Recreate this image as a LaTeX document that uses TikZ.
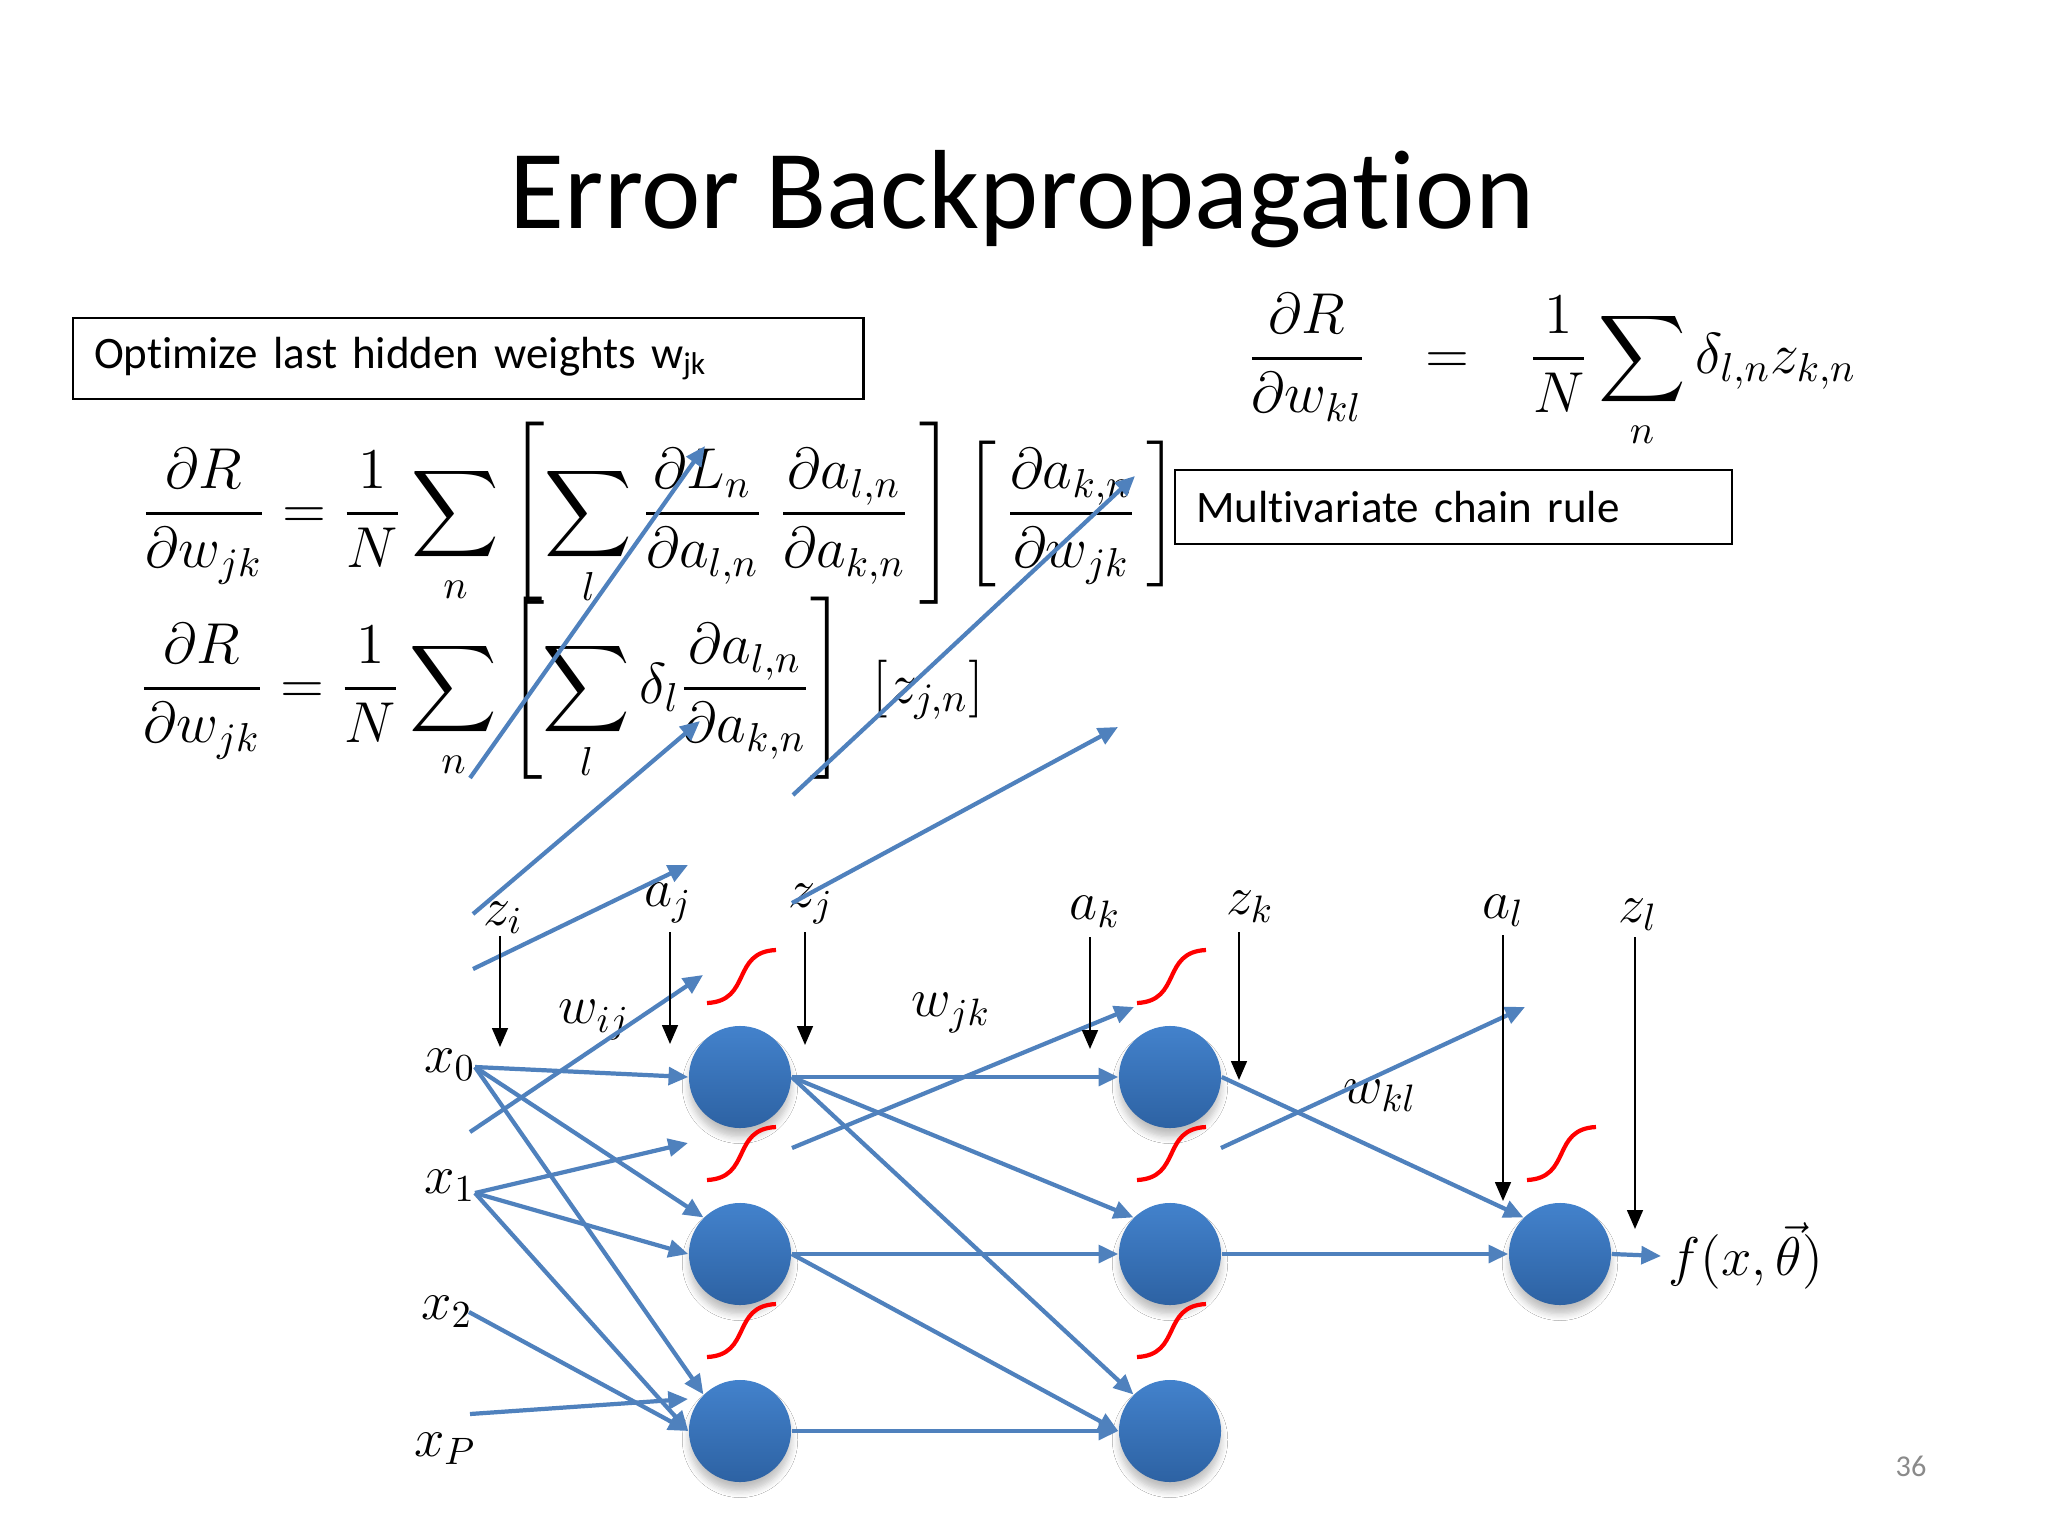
\documentclass[tikz,border=0pt]{standalone}
\usepackage{fix-cm}
\usepackage{amsmath}
\usepackage[no-math]{fontspec}
\setmainfont{Carlito}[Ligatures=NoCommon]
\definecolor{bpBlue}{HTML}{4F81BD}
\definecolor{bpNodeTop}{HTML}{4382CC}
\definecolor{bpNodeBot}{HTML}{2D62A3}
\definecolor{bpGray}{HTML}{8A8A8A}
\usetikzlibrary{
	arrows.meta,
	positioning,
	calc,
	shadows.blur
}

\begin{document}
\begin{tikzpicture}[x=0.01cm, y=-0.01cm,
		neuron/.style={circle, minimum size=1.02cm, inner sep=0pt, top color=bpNodeTop, bottom color=bpNodeBot,
			blur shadow={shadow xshift=0pt, shadow yshift=-2.5pt, shadow blur steps=6, shadow opacity=25}},
		wire/.style={draw=bpBlue, line width=1.2pt, -{Triangle[length=5.6pt,width=5pt]}},
		probe/.style={draw=black, line width=0.6pt, -{Triangle[length=5.4pt,width=4.5pt]}},
		sigm/.style={draw=red, line width=1.2pt},
		lbl/.style={font=\fontsize{15.5}{18}\selectfont, inner sep=0pt},
		eqn/.style={font=\fontsize{16.4}{19}\selectfont, inner sep=0pt, anchor=base west},
		textbox/.style={draw=black, line width=0.6pt, anchor=north west, font=\fontsize{12.8}{15}\selectfont,
			align=left, inner xsep=0.21cm, inner ysep=0pt}]
		\fill[white] (0,0) rectangle (2048,1536);
		\useasboundingbox (0,0) rectangle (2048,1536);

		% title and boxes
		\node[anchor=base, font=\fontsize{32}{38}\selectfont] (title) at (1022,228) {Error Backpropagation};
		\node[textbox, minimum height=0.81cm, text width=7.48cm] (optbox) at (72,317) {Optimize last hidden weights w\textsubscript{jk}};
		\node[textbox, minimum height=0.74cm, text width=5.15cm] (chainbox) at (1174,469) {Multivariate chain rule};

		% equations
		\node[eqn] (eqA) at (141,528) {$\displaystyle \frac{\partial R}{\partial w_{jk}} = \frac{1}{N}\sum_n \left[\sum_l \frac{\partial L_n}{\partial a_{l,n}}\;\frac{\partial a_{l,n}}{\partial a_{k,n}}\,\right]\left[\,\frac{\partial a_{k,n}}{\partial w_{jk}}\,\right]$};
		\node[eqn] (eqB) at (139,703) {$\displaystyle \frac{\partial R}{\partial w_{jk}} = \frac{1}{N}\sum_n \left[\sum_l \delta_l \frac{\partial a_{l,n}}{\partial a_{k,n}}\right]\hspace{0.3em}[z_{j,n}]$};
		\node[eqn] (eqC) at (1247,373) {$\displaystyle \frac{\partial R}{\partial w_{kl}}\hspace{0.75em} = \hspace{0.75em}\frac{1}{N}\sum_n \delta_{l,n} z_{k,n}$};

		% neurons
		\foreach \n/\x/\y in {j1/740/1077, j2/740/1254, j3/740/1431, k1/1170/1077, k2/1170/1254, k3/1170/1431, l/1560/1254}
			\node[neuron] (\n) at (\x,\y) {};
		\foreach \n in {j1,j2,j3,k1,k2,k3,l}
			\draw[sigm] ($(\n)+(-33,-74)$) .. controls +(45,-2) and +(-45,2) .. ($(\n)+(36,-127)$);

		% labels
		\node[lbl] (zi) at (503,918) {$z_i$};
		\node[lbl] (aj) at (668,903) {$a_j$};
		\node[lbl] (zj) at (811,904) {$z_j$};
		\node[lbl] (ak) at (1095,912) {$a_k$};
		\node[lbl] (zk) at (1250,907) {$z_k$};
		\node[lbl] (al) at (1503,911) {$a_l$};
		\node[lbl] (zl) at (1638,915) {$z_l$};
		\node[lbl] (wij) at (594,1020) {$w_{ij}$};
		\node[lbl] (wjk) at (951,1013) {$w_{jk}$};
		\node[lbl] (wkl) at (1380,1096) {$w_{kl}$};
		\node[lbl] (x0) at (450,1065) {$x_0$};
		\node[lbl] (x1) at (450,1186) {$x_1$};
		\node[lbl] (x2) at (447,1312) {$x_2$};
		\node[lbl] (xP) at (445,1449) {$x_P$};
		\node[lbl, anchor=west, inner sep=2pt] (out) at (1661,1256) {$f(x,\vec{\theta})$};

		\coordinate (in0) at (475,1067);
		\coordinate (in1) at (475,1193);
		\coordinate (in2) at (469,1312);
		\coordinate (inP) at (470,1414);
		\coordinate (xP-tip) at (688,1399);

		% forward wires
		\foreach \a/\b in {in0/j1.west, in0/j2.135, in0/j3.135, in1/j2.west, in1/j3.west, in2/j3.west, inP/xP-tip,
				j1.east/k1.west, j1.east/k2.135, j1.east/k3.135, j2.east/k2.west, j2.east/k3.west, j3.east/k3.west,
				k1.east/l.135, k2.east/l.west, l.east/out.west}
			\draw[wire] (\a) -- (\b);

		% loose arrows
		\foreach \i/\xa/\ya/\xb/\yb in {1/470/778/705/446, 2/793/795/1135/476, 3/473/914/700/721, 4/792/903/1118/727,
				5/473/969/688/865, 6/470/1132/703/975, 8/792/1148/1134/1007, 9/1221/1148/1525/1007}{
			\coordinate (s\i) at (\xa,\ya);
			\coordinate (t\i) at (\xb,\yb);
			\draw[wire] (s\i) -- (t\i);
		}
		\coordinate (t7) at (688,1143);
		\draw[wire] (in1) -- (t7);

		% value probes
		\foreach \n/\x/\t/\b in {zi/500/936/1047, aj/670/932/1044, zj/805/932/1045, ak/1090/937/1049,
				zk/1239/932/1080, al/1503/935/1201, zl/1635/937/1229}{
			\coordinate (\n-top) at (\x,\t);
			\coordinate (\n-tip) at (\x,\b);
			\draw[probe] (\n-top) -- (\n-tip);
		}

		\node[text=bpGray, font=\fontsize{8.6}{10}\selectfont] (pgnum) at (1911,1466) {36};
	\end{tikzpicture}
\end{document}
